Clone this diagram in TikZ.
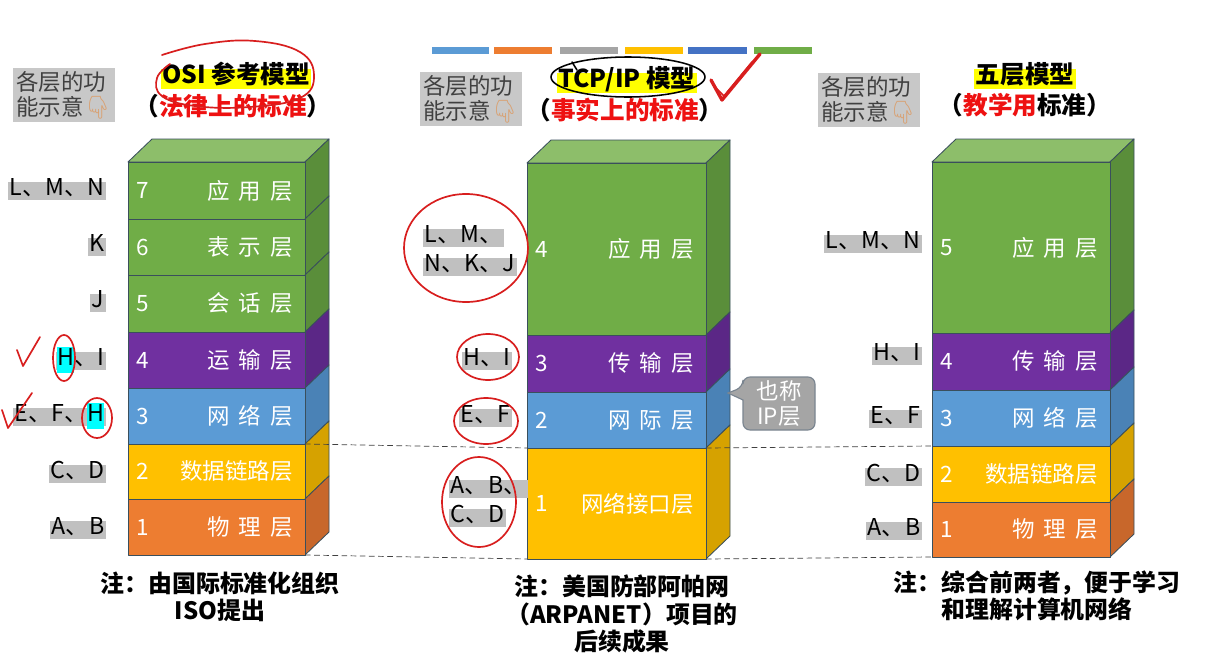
\documentclass[tikz,border=0pt]{standalone}
\usepackage{fontspec}
\setmainfont{Noto Sans CJK SC}
\newfontfamily\emojifont{Noto Emoji}
\definecolor{gfront}{HTML}{70AD47}
\definecolor{gtop}{HTML}{8DBE6A}
\definecolor{gside}{HTML}{5A8E3A}
\definecolor{pfront}{HTML}{7030A0}
\definecolor{pside}{HTML}{5B2786}
\definecolor{bfront}{HTML}{5B9BD5}
\definecolor{bside}{HTML}{4A82B6}
\definecolor{yfront}{HTML}{FFC000}
\definecolor{yside}{HTML}{D6A200}
\definecolor{ofront}{HTML}{ED7D31}
\definecolor{oside}{HTML}{C8672B}
\definecolor{edgec}{HTML}{3A4F5C}
\definecolor{glab}{HTML}{C0C0C0}
\definecolor{funcg}{HTML}{C8C8C8}
\definecolor{functxt}{HTML}{404040}
\definecolor{annred}{HTML}{D81E1E}
\definecolor{titlered}{HTML}{EE1111}
\definecolor{hly}{HTML}{FFFF00}
\definecolor{hlc}{HTML}{00FFFF}
\definecolor{handc}{HTML}{D9A070}
\definecolor{callg}{HTML}{A5A5A5}
\definecolor{calld}{HTML}{7A8590}
\definecolor{barblue}{HTML}{5B9BD5}
\definecolor{barorange}{HTML}{ED7D31}
\definecolor{bargray}{HTML}{A5A5A5}
\definecolor{baryellow}{HTML}{FFC000}
\definecolor{bardblue}{HTML}{4472C4}
\definecolor{bargreen}{HTML}{70AD47}

\newcommand{\hlH}{{\setlength{\fboxsep}{0pt}\colorbox{hlc}{\strut H}}}
\newcommand{\gp}{\hspace{0.4em}}
\newcommand{\hand}{{\emojifont\color{handc}👇}}

% #1 xl, #2 xr, #3 ytop, #4 ybot, #5 front, #6 side, #7 number, #8 name, #9 node prefix
\newcommand{\stacklayer}[9]{%
  \filldraw[face, fill=#6] (#2,#3) -- (#2+24,#3-23) -- (#2+24,#4-23) -- (#2,#4) -- cycle;
  \filldraw[face, fill=#5] (#1,#3) rectangle (#2,#4);
  \node[lnum] (#9num) at (#1+15,{(#3+#4)/2}) {#7};
  \node[lname] (#9name) at (#2-12,{(#3+#4)/2}) {#8};
}
\newcommand{\stacktop}[3]{%
  \filldraw[face, fill=gtop] (#1,#3) -- (#1+24,#3-23) -- (#2+24,#3-23) -- (#2,#3) -- cycle;
}

\tikzset{
  face/.style={draw=edgec, line width=0.6pt, line join=round},
  lnum/.style={text=white, font=\fontsize{16}{18}\selectfont, inner sep=0pt},
  lname/.style={text=white, font=\fontsize{16}{18}\selectfont, inner sep=0pt, anchor=east},
  glabel/.style={fill=glab, text=black, font=\fontsize{16.5}{19}\selectfont, inner sep=1pt, text height=0.85em, text depth=0.22em},
  funcbox/.style={fill=funcg, text=functxt, font=\fontsize{16}{17.7}\selectfont, align=left, inner sep=2pt, anchor=north west},
  title/.style={font=\bfseries\fontsize{17.5}{20}\selectfont, inner sep=1pt, text height=0.95em, text depth=0.25em},
  note/.style={font=\bfseries\fontsize{17}{19.5}\selectfont, align=center, inner sep=0pt},
  annot/.style={draw=annred, line width=1.2pt, line cap=round, line join=round},
  dashline/.style={draw=black!75, line width=0.5pt, dash pattern=on 4pt off 2.5pt},
  callout/.style={fill=callg, draw=calld, line width=0.8pt}
}

\begin{document}
\begin{tikzpicture}[x=0.025cm, y=-0.025cm]
\fill[white] (0,0) rectangle (1206,665);
\useasboundingbox (0,0) rectangle (1206,665);

% colour bars
\fill[barblue] (432,47) rectangle (489,54);
\fill[barorange] (494,47) rectangle (552,54);
\fill[bargray] (560,47) rectangle (618,54);
\fill[baryellow] (625,47) rectangle (683,54);
\fill[bardblue] (688,47) rectangle (747,54);
\fill[bargreen] (754,47) rectangle (812,54);

% ---------- OSI stack ----------
\stacktop{128}{305}{162}
\stacklayer{128}{305}{162}{219}{gfront}{gside}{7}{应\gp 用\gp 层}{osi7}
\stacklayer{128}{305}{219}{275}{gfront}{gside}{6}{表\gp 示\gp 层}{osi6}
\stacklayer{128}{305}{275}{332}{gfront}{gside}{5}{会\gp 话\gp 层}{osi5}
\stacklayer{128}{305}{332}{388}{pfront}{pside}{4}{运\gp 输\gp 层}{osi4}
\stacklayer{128}{305}{388}{444}{bfront}{bside}{3}{网\gp 络\gp 层}{osi3}
\stacklayer{128}{305}{444}{499}{yfront}{yside}{2}{数据链路层}{osi2}
\stacklayer{128}{305}{499}{555}{ofront}{oside}{1}{物\gp 理\gp 层}{osi1}

% ---------- TCP/IP stack ----------
\stacktop{527}{706}{163}
\stacklayer{527}{706}{163}{335}{gfront}{gside}{4}{应\gp 用\gp 层}{tcp4}
\stacklayer{527}{706}{335}{392}{pfront}{pside}{3}{传\gp 输\gp 层}{tcp3}
\stacklayer{527}{706}{392}{448}{bfront}{bside}{2}{网\gp 际\gp 层}{tcp2}
\stacklayer{527}{706}{448}{559}{yfront}{yside}{1}{网络接口层}{tcp1}

% ---------- five-layer stack ----------
\stacktop{932}{1110}{162}
\stacklayer{932}{1110}{162}{333}{gfront}{gside}{5}{应\gp 用\gp 层}{five5}
\stacklayer{932}{1110}{333}{390}{pfront}{pside}{4}{传\gp 输\gp 层}{five4}
\stacklayer{932}{1110}{390}{446}{bfront}{bside}{3}{网\gp 络\gp 层}{five3}
\stacklayer{932}{1110}{446}{502}{yfront}{yside}{2}{数据链路层}{five2}
\stacklayer{932}{1110}{502}{557}{ofront}{oside}{1}{物\gp 理\gp 层}{five1}

% dashed correspondence lines
\coordinate (osiTopR) at (305,444);
\coordinate (osiBotR) at (305,555);
\coordinate (tcpTopL) at (527,448);
\coordinate (tcpBotL) at (527,559);
\coordinate (tcpTopR) at (706,448);
\coordinate (tcpBotR) at (706,559);
\coordinate (fiveTopL) at (932,446);
\coordinate (fiveBotL) at (932,557);
\draw[dashline] (osiTopR) -- (tcpTopL);
\draw[dashline] (osiBotR) -- (tcpBotL);
\draw[dashline] (tcpTopR) -- (fiveTopL);
\draw[dashline] (tcpBotR) -- (fiveBotL);

% ---------- titles ----------
\node[title, fill=hly] (osititle) at (236,79) {OSI 参考模型};
\node[title] (osisub) at (233,111) {（\textcolor{titlered}{法律上的标准}）};
\node[title, fill=hly] (tcptitle) at (627,83) {TCP/IP 模型};
\node[title] (tcpsub) at (625,115) {（\textcolor{titlered}{事实上的标准}）};
\node[title, fill=hly] (fivetitle) at (1025,79) {五层模型};
\node[title] (fivesub) at (1025,110) {（\textcolor{titlered}{教学用}标准）};

\node[funcbox] (osifunc) at (13,68) {各层的功\\能示意\hand};
\node[funcbox] (tcpfunc) at (420,72) {各层的功\\能示意\hand};
\node[funcbox] (fivefunc) at (818,73) {各层的功\\能示意\hand};

% ---------- OSI gray labels ----------
\node[glabel, anchor=east] (oL7) at (106,191) {L、M、N};
\node[glabel, anchor=east] (oL6) at (106,247) {K};
\node[glabel, anchor=east] (oL5) at (106,303) {J};
\node[glabel, anchor=east] (oL4) at (106,361) {\hlH、I};
\node[glabel, anchor=east] (oL3) at (106,417) {E、F、\hlH};
\node[glabel, anchor=east] (oL2) at (106,474) {C、D};
\node[glabel, anchor=east] (oL1) at (106,530) {A、B};

% ---------- TCP/IP gray labels ----------
\node[glabel, anchor=west] (tL4a) at (423,238) {L、M、};
\node[glabel, anchor=west] (tL4b) at (423,267) {N、K、J};
\node[glabel, anchor=east] (tL3) at (512,361) {H、I};
\node[glabel, anchor=east] (tL2) at (512,418) {E、F};
\node[glabel, anchor=west] (tL1a) at (449,489) {A、B、};
\node[glabel, anchor=west] (tL1b) at (449,518) {C、D};

% ---------- five-layer gray labels ----------
\node[glabel, anchor=east] (fL5) at (922,244) {L、M、N};
\node[glabel, anchor=east] (fL4) at (922,356) {H、I};
\node[glabel, anchor=east] (fL3) at (922,419) {E、F};
\node[glabel, anchor=east] (fL2) at (922,477) {C、D};
\node[glabel, anchor=east] (fL1) at (922,531) {A、B};

% ---------- callout ----------
\filldraw[callout] (779,377) [rounded corners=5pt] -- (743,377) -- (743,387) [sharp corners] -- (728,393) -- (743,400) [rounded corners=5pt] -- (743,430) -- (815,430) -- (815,377) -- cycle;
\node[font=\fontsize{16}{17.7}\selectfont, text=white, align=center, inner sep=0pt] (callouttxt) at (779,404) {也称\\IP层};

% ---------- notes ----------
\node[note] (osinote) at (220,597) {注：由国际标准化组织\\ISO提出};
\node[note] (tcpnote) at (622,614) {注：美国防部阿帕网\\（ARPANET）项目的\\后续成果};
\node[note] (fivenote) at (1037,596) {注：综合前两者，便于学习\\和理解计算机网络};

% ---------- hand-drawn annotations ----------
\draw[annot] plot[smooth, tension=0.7] coordinates {(162,55) (205,44) (255,41) (300,52) (314,76) (300,98) (250,107) (195,106) (162,96) (157,78) (170,64)};
\draw[draw=black, line width=1.1pt] (628,77) ellipse [x radius=77, y radius=20];
\draw[draw=black, line width=1.1pt, line cap=round] (572,62) -- (577,70);
\draw[annot, line width=2.4pt] (711,80) -- (722,100) -- (760,54);
\draw[annot, line width=1.2pt] (714,86) -- (724,96) -- (752,62);

\draw[annot] (17,350) -- (23,366) -- (40,337);
\draw[annot] (2,410) -- (8,428) -- (32,393);
\draw[annot] (64,358) ellipse [x radius=11, y radius=23];
\draw[annot] (97,418) ellipse [x radius=15, y radius=20];

\draw[annot] (466,248) ellipse [x radius=62, y radius=54];
\draw[annot] (488,357) ellipse [x radius=31, y radius=23];
\draw[annot] (486,421) ellipse [x radius=32, y radius=23];
\draw[annot] (479,502) ellipse [x radius=37, y radius=45];
\end{tikzpicture}
\end{document}
